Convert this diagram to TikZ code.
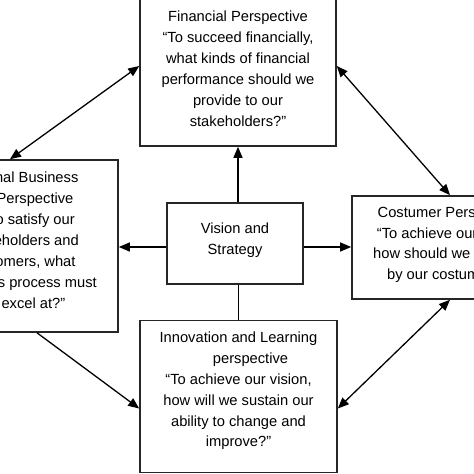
\documentclass[tikz,border=0pt]{standalone}
\usepackage{fontspec}
\setmainfont{Liberation Sans}
\usetikzlibrary{arrows.meta}
\begin{document}
\begin{tikzpicture}[x=1pt,y=-1pt,
  box/.style={draw=black!85, line width=1.6pt, rectangle, inner sep=0pt},
  txt/.style={align=center, inner sep=0pt, anchor=north, font=\fontsize{14.7pt}{21pt}\selectfont, text=black},
  conn/.style={line width=1.3pt, draw=black},
  arr/.style={conn, -{Triangle[length=11pt,width=9pt]}},
  darr/.style={conn, {Triangle[length=11pt,width=9pt]}-{Triangle[length=11pt,width=9pt]}}]
\useasboundingbox (0,0) rectangle (474,474);
% boxes
\node[box, minimum width=196pt, minimum height=160pt] (fin) at (238,66) {};
\node[box, minimum width=136pt, minimum height=81pt] (vis) at (235,243.5) {};
\node[box, minimum width=196pt, minimum height=172pt] (ibp) at (20,246) {};
\node[box, minimum width=196pt, minimum height=103pt] (cus) at (450,247.5) {};
\node[box, minimum width=197pt, minimum height=152pt] (inn) at (238.5,396.5) {};
% texts
\node[txt] (fint) at (238,11) {Financial Perspective\\“To succeed financially,\\what kinds of financial\\performance should we\\provide to our\\stakeholders?"};
\node[txt] (vist) at (235,223) {Vision and\\Strategy};
\node[txt] (ibpt) at (22,172) {Internal Business\\\hspace*{26pt}Perspective\\\hspace*{14pt}“To satisfy our\\shareholders and\\customers, what\\business process must\\we excel at?"};
\node[txt, font=\fontsize{14.7pt}{20.5pt}\selectfont] (cust) at (450,207) {Costumer Perspective\\“To achieve our vision,\\how should we be seen\\by our costumers?"};
\node[txt, font=\fontsize{14.7pt}{20.8pt}\selectfont] (innt) at (238.5,332) {Innovation and Learning\\\hspace*{24pt}perspective\\“To achieve our vision,\\how will we sustain our\\ability to change and\\improve?"};
% connectors
\coordinate (mid) at (238,247);
\draw[arr] (vis.north -| fin.south) -- (fin.south);
\draw[arr] (vis.west |- mid) -- (ibp.east |- mid);
\draw[arr] (vis.east |- mid) -- (cus.west |- mid);
\draw[conn] (vis.south -| inn.north) -- (inn.north);
\draw[darr] (fin.west) -- ([xshift=-10pt]ibp.north);
\draw[darr] (fin.east) -- (cus.north);
\draw[darr] (cus.south) -- ([yshift=-12pt]inn.east);
\draw[arr] ([xshift=17pt]ibp.south) -- ([yshift=-12pt]inn.west);
\end{tikzpicture}
\end{document}
